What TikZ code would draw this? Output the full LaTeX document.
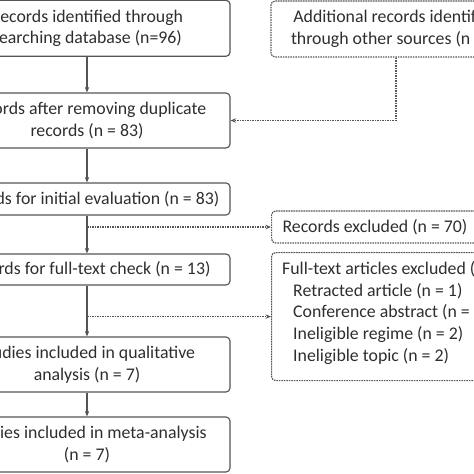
\documentclass[tikz,border=0pt]{standalone}
\usepackage{fontspec}
\setmainfont{Carlito}
\usetikzlibrary{arrows.meta}
\definecolor{linegray}{HTML}{555555}
\definecolor{textgray}{HTML}{2E2E2E}
\begin{document}
\begin{tikzpicture}[x=1pt,y=-1pt,
  txt/.style={text=textgray, font=\fontsize{17.8}{21.8}\selectfont},
  box/.style={txt, draw=linegray, line width=1.15pt, rounded corners=4pt, align=center, inner sep=0pt},
  dbox/.style={box, dash pattern=on 1.6pt off 0.9pt},
  arr/.style={draw=linegray, line width=1.15pt, -{Stealth[length=5.5pt,width=4.5pt]}},
  darr/.style={arr, dash pattern=on 1.6pt off 0.9pt}]
\useasboundingbox (0,0) rectangle (474,474);
\clip (0,0) rectangle (474,474);
% left column
\node[box, minimum width=286pt, minimum height=56pt] (L1) at (87,28.3) {Records identified through\\searching database (n=96)};
\node[box, minimum width=286pt, minimum height=55pt] (L2) at (87,120.5) {Records after removing duplicate\\records (n = 83)};
\node[box, minimum width=286pt, minimum height=32pt] (L3) at (87,199) {Records for initial evaluation (n = 83)};
\node[box, minimum width=286pt, minimum height=31pt] (L4) at (87,269.5) {Records for full-text check (n = 13)};
\node[box, minimum width=286pt, minimum height=55pt] (L5) at (87,364.5) {Studies included in qualitative\\analysis (n = 7)};
\node[box, minimum width=286pt, minimum height=55pt] (L6) at (87,444.5) {Studies included in meta-analysis\\(n = 7)};
% right column
\node[dbox, minimum width=250pt, minimum height=56pt] (R1) at (396,29) {Additional records identified\\\makebox[210pt][l]{through other sources (n}};
\node[dbox, anchor=west, align=flush left, text width=208pt, inner xsep=11pt, minimum height=32pt] (R2) at (271,227) {Records excluded (n = 70)};
\node[dbox, anchor=north west, minimum width=240pt, minimum height=128pt] (R3) at (271,252) {};
\node[txt, anchor=north west, align=left, inner sep=0pt] (R3t) at (282,261) {Full-text articles excluded (\\\hspace*{11pt}Retracted article (n = 1)\\\hspace*{11pt}Conference abstract (n =\\\hspace*{11pt}Ineligible regime (n = 2)\\\hspace*{11pt}Ineligible topic (n = 2)};
% connectors
\draw[arr] (L1) -- (L2);
\draw[arr] (L2) -- (L3);
\draw[arr] (L3) -- (L4);
\draw[arr] (L4) -- (L5);
\draw[arr] (L5) -- (L6);
\draw[darr] (R1.south) |- (L2.east);
\draw[darr] (L3.south |- R2.west) -- (R2.west);
\draw[darr] (L4.south |- R3.west) -- (R3.west);
\end{tikzpicture}
\end{document}
